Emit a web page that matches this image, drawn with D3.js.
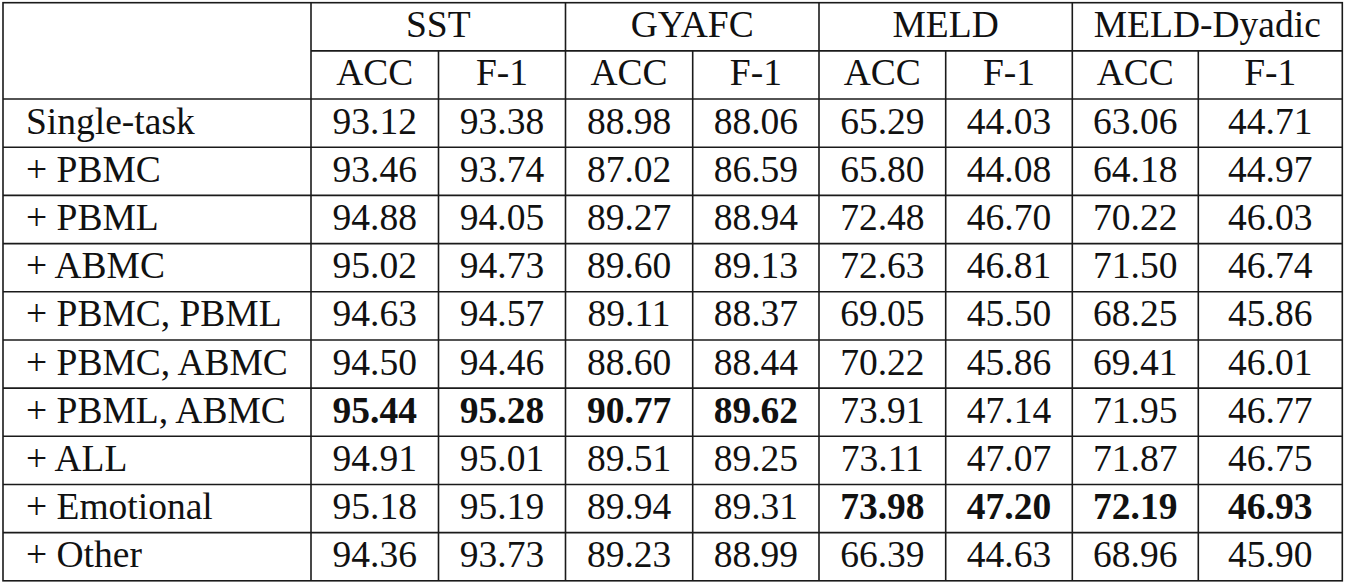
<!DOCTYPE html>
<html>
<head>
<meta charset="utf-8">
<script src="https://cdn.jsdelivr.net/npm/d3@7"></script>
<style>
  html, body { margin: 0; padding: 0; background: #fff; }
  svg { display: block; }
</style>
</head>
<body>
<svg id="chart" width="1346" height="586"></svg>
<script>
// ---- data ----
const datasets = ["SST", "GYAFC", "MELD", "MELD-Dyadic"];
const metrics = ["ACC", "F-1"];
const methods = ["Single-task", "+ PBMC", "+ PBML", "+ ABMC", "+ PBMC, PBML", "+ PBMC, ABMC", "+ PBML, ABMC", "+ ALL", "+ Emotional", "+ Other"];
const sstAcc = [93.12, 93.46, 94.88, 95.02, 94.63, 94.50, 95.44, 94.91, 95.18, 94.36];
const sstF1 = [93.38, 93.74, 94.05, 94.73, 94.57, 94.46, 95.28, 95.01, 95.19, 93.73];
const gyafcAcc = [88.98, 87.02, 89.27, 89.60, 89.11, 88.60, 90.77, 89.51, 89.94, 89.23];
const gyafcF1 = [88.06, 86.59, 88.94, 89.13, 88.37, 88.44, 89.62, 89.25, 89.31, 88.99];
const meldAcc = [65.29, 65.80, 72.48, 72.63, 69.05, 70.22, 73.91, 73.11, 73.98, 66.39];
const meldF1 = [44.03, 44.08, 46.70, 46.81, 45.50, 45.86, 47.14, 47.07, 47.20, 44.63];
const dyadicAcc = [63.06, 64.18, 70.22, 71.50, 68.25, 69.41, 71.95, 71.87, 72.19, 68.96];
const dyadicF1 = [44.71, 44.97, 46.03, 46.74, 45.86, 46.01, 46.77, 46.75, 46.93, 45.90];
const columns = [sstAcc, sstF1, gyafcAcc, gyafcF1, meldAcc, meldF1, dyadicAcc, dyadicF1];

// ---- layout ----
const svg = d3.select("#chart");
const colEdges = [3, 311, 438.5, 565.5, 692.7, 819, 945.7, 1072.3, 1198.3, 1342.3];
const nRows = methods.length + 2;
const y = d3.scaleLinear().domain([0, nRows]).range([2.7, 580.8]);
const fontSize = 37.5;
const stroke = "#1a1a1a", sw = 1.6;
const baseOff = 10.5;

const cx = i => (colEdges[i] + colEdges[i + 1]) / 2;
const rowMid = r => (y(r) + y(r + 1)) / 2;

const lines = svg.append("g").attr("stroke", stroke).attr("stroke-width", sw);
lines.append("rect")
  .attr("x", colEdges[0]).attr("y", y(0))
  .attr("width", colEdges[colEdges.length - 1] - colEdges[0])
  .attr("height", y(nRows) - y(0)).attr("fill", "none");
lines.append("line").attr("x1", colEdges[1]).attr("x2", colEdges[9]).attr("y1", y(1)).attr("y2", y(1));
d3.range(2, nRows).forEach(r => {
  lines.append("line").attr("x1", colEdges[0]).attr("x2", colEdges[9]).attr("y1", y(r)).attr("y2", y(r));
});
[1, 3, 5, 7].forEach(c => {
  lines.append("line").attr("x1", colEdges[c]).attr("x2", colEdges[c]).attr("y1", y(0)).attr("y2", y(nRows));
});
[2, 4, 6, 8].forEach(c => {
  lines.append("line").attr("x1", colEdges[c]).attr("x2", colEdges[c]).attr("y1", y(1)).attr("y2", y(nRows));
});

const txt = svg.append("g")
  .attr("font-size", fontSize)
  .attr("font-family", "'Liberation Serif', 'Times New Roman', Times, serif")
  .attr("fill", "#111");
datasets.forEach((d, i) => {
  txt.append("text")
    .attr("x", (colEdges[1 + 2 * i] + colEdges[3 + 2 * i]) / 2)
    .attr("y", rowMid(0) + baseOff)
    .attr("text-anchor", "middle").text(d);
});
d3.range(8).forEach(j => {
  txt.append("text")
    .attr("x", cx(j + 1)).attr("y", rowMid(1) + baseOff)
    .attr("text-anchor", "middle").text(metrics[j % 2]);
});
methods.forEach((m, r) => {
  txt.append("text").attr("x", 26).attr("y", rowMid(r + 2) + baseOff).text(m);
});
columns.forEach((col, j) => {
  const mx = d3.max(col);
  col.forEach((v, r) => {
    txt.append("text")
      .attr("x", cx(j + 1)).attr("y", rowMid(r + 2) + baseOff)
      .attr("text-anchor", "middle")
      .attr("font-weight", v === mx ? "bold" : "normal")
      .text(v.toFixed(2));
  });
});
</script>
</body>
</html>
